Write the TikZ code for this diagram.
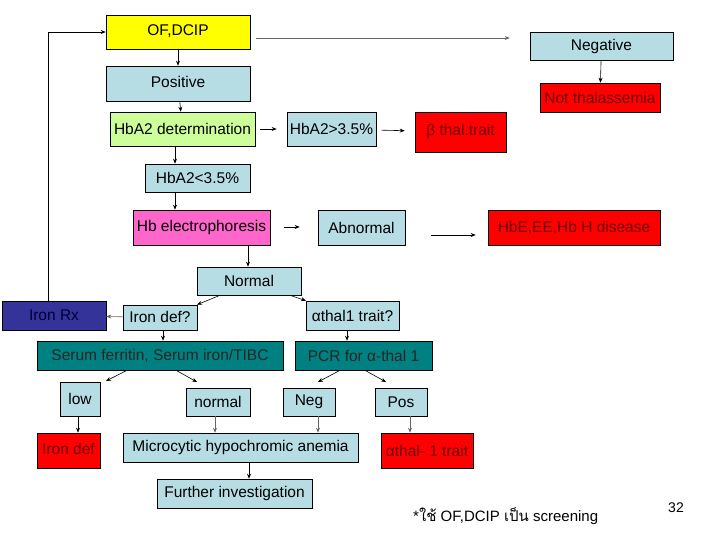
\documentclass[tikz,border=0pt]{standalone}
\usepackage{fontspec}
\setmainfont{Liberation Sans}
\newfontfamily\thaifont[Script=Thai]{Loma}
\usetikzlibrary{arrows.meta}
\definecolor{lb}{RGB}{183,221,228}
\definecolor{lg}{RGB}{204,255,153}
\definecolor{pk}{RGB}{255,102,204}
\definecolor{yl}{RGB}{255,255,0}
\definecolor{rd}{RGB}{255,0,0}
\definecolor{tl}{RGB}{0,128,128}
\definecolor{nv}{RGB}{51,51,153}
\definecolor{dr}{RGB}{110,0,0}
\begin{document}
\begin{tikzpicture}[x=1pt,y=-1pt,
 bx/.style={draw=black,line width=0.6pt,inner sep=0pt,font=\fontsize{15.5}{17}\selectfont},
 ar/.style={-{Stealth[length=5pt,width=4pt]},line width=0.6pt},
 gar/.style={ar,draw=gray!80!black}]
\useasboundingbox (0,0) rectangle (728,546);
\newcommand\bxx[7]{\node[bx,fill=#6,minimum width={#4-#2},minimum height={#5-#3}] (#1) at ({(#2+#4)/2},{(#3+#5)/2}) {#7};}
\bxx{of}{106}{15}{250}{49}{yl}{\raisebox{4pt}{OF,DCIP}}
\bxx{neg}{530}{32}{673}{60}{lb}{\raisebox{2pt}{Negative}}
\bxx{nt}{540}{83}{660}{112}{rd}{\color{dr}Not thalassemia}
\bxx{pos}{106}{66}{250}{101}{lb}{\raisebox{4pt}{Positive}}
\bxx{det}{110}{112}{255}{146}{lg}{HbA2 determination}
\bxx{hi}{287}{112}{376}{146}{lb}{HbA2>3.5\%}
\bxx{bt}{415}{112}{506}{152}{rd}{\raisebox{4pt}{\color{dr}β thal.trait}}
\bxx{lo}{145}{164}{250}{192}{lb}{HbA2<3.5\%}
\bxx{el}{133}{210}{270}{245}{pk}{Hb electrophoresis}
\bxx{ab}{318}{210}{405}{245}{lb}{Abnormal}
\bxx{hbe}{488}{210}{660}{245}{rd}{\color{dr}HbE,EE,Hb H disease}
\bxx{nor}{197}{267}{301}{295}{lb}{Normal}
\bxx{irx}{2}{301}{106}{330}{nv}{\color{black!80!blue}Iron Rx}
\bxx{idq}{123}{305}{197}{330}{lb}{\raisebox{2pt}{Iron def?}}
\bxx{atq}{306}{301}{399}{330}{lb}{αthal1 trait?}
\bxx{sf}{37}{341}{283}{370}{tl}{\raisebox{2pt}{\color{black!85}Serum ferritin, Serum iron/TIBC}}
\bxx{pcr}{295}{341}{432}{370}{tl}{\raisebox{-4pt}{\color{black!85}PCR for α-thal 1}}
\bxx{low}{60}{382}{100}{416}{lb}{low}
\bxx{nm}{186}{388}{250}{416}{lb}{normal}
\bxx{ng}{283}{388}{335}{416}{lb}{Neg}
\bxx{ps}{375}{388}{427}{416}{lb}{Pos}
\bxx{idf}{37}{433}{100}{468}{rd}{\raisebox{3pt}{\color{dr}Iron def}}
\bxx{mha}{123}{433}{358}{462}{lb}{Microcytic hypochromic anemia}
\bxx{at}{381}{433}{473}{468}{rd}{\color{dr}αthal- 1 trait}
\bxx{fi}{157}{479}{312}{508}{lb}{Further investigation}
\node[font=\fontsize{15}{17}\selectfont,anchor=west,inner sep=0pt] (fn) at (413,516) {*{\thaifont ใช้} OF,DCIP {\thaifont เป็น} screening};
\node[font=\fontsize{14}{16}\selectfont] (pg) at (676,508) {32};
% connectors
\draw[gar,shorten <=6pt,shorten >=20pt] (of.east |- 0,38) -- (neg.west |- 0,38);
\draw[ar] (of) -- (pos);
\draw[ar] (neg) -- (nt);
\draw[ar] (pos) -- (det);
\draw[ar,shorten <=5pt,shorten >=10pt] (det) -- (hi);
\draw[ar,shorten <=5pt,shorten >=10pt] (hi) -- (bt);
\draw[ar] (det.south -| 175,0) -- (lo.north -| 175,0);
\draw[ar] (lo.south -| 175,0) -- (el.north -| 175,0);
\draw[ar,shorten <=14pt,shorten >=18pt] (el.east |- 0,227) -- (ab.west |- 0,227);
\draw[ar,shorten <=26pt,shorten >=12pt] (ab.east |- 0,235) -- (hbe.west |- 0,235);
\draw[ar] (el.south -| 248,0) -- (nor.north -| 248,0);
\draw[ar] (nor.south -| 220,0) -- (idq.north -| 197,0);
\draw[ar] (nor.south -| 290,0) -- (atq.north -| 306,0);
\draw[gar] (idq) -- (irx);
\draw[ar] (irx.north -| 48,0) |- (of.west);
\draw[ar] (idq.south -| 163,0) -- (sf.north -| 163,0);
\draw[ar] (atq.south -| 347,0) -- (pcr.north -| 347,0);
\draw[ar] (sf.south -| 127,0) -- (106,381);
\draw[ar] (sf.south -| 176,0) -- (197,382);
\draw[ar] (pcr.south -| 340,0) -- (318,382);
\draw[ar] (pcr.south -| 365,0) -- (386,382);
\draw[ar] (low.south -| 78,0) -- (idf.north -| 78,0);
\draw[gar] (nm.south -| 215,0) -- (mha.north -| 215,0);
\draw[gar] (ng.south -| 318,0) -- (mha.north -| 318,0);
\draw[gar] (ps.south -| 410,0) -- (at.north -| 410,0);
\draw[ar] (mha.south -| 249,0) -- (fi.north -| 249,0);
\end{tikzpicture}
\end{document}
